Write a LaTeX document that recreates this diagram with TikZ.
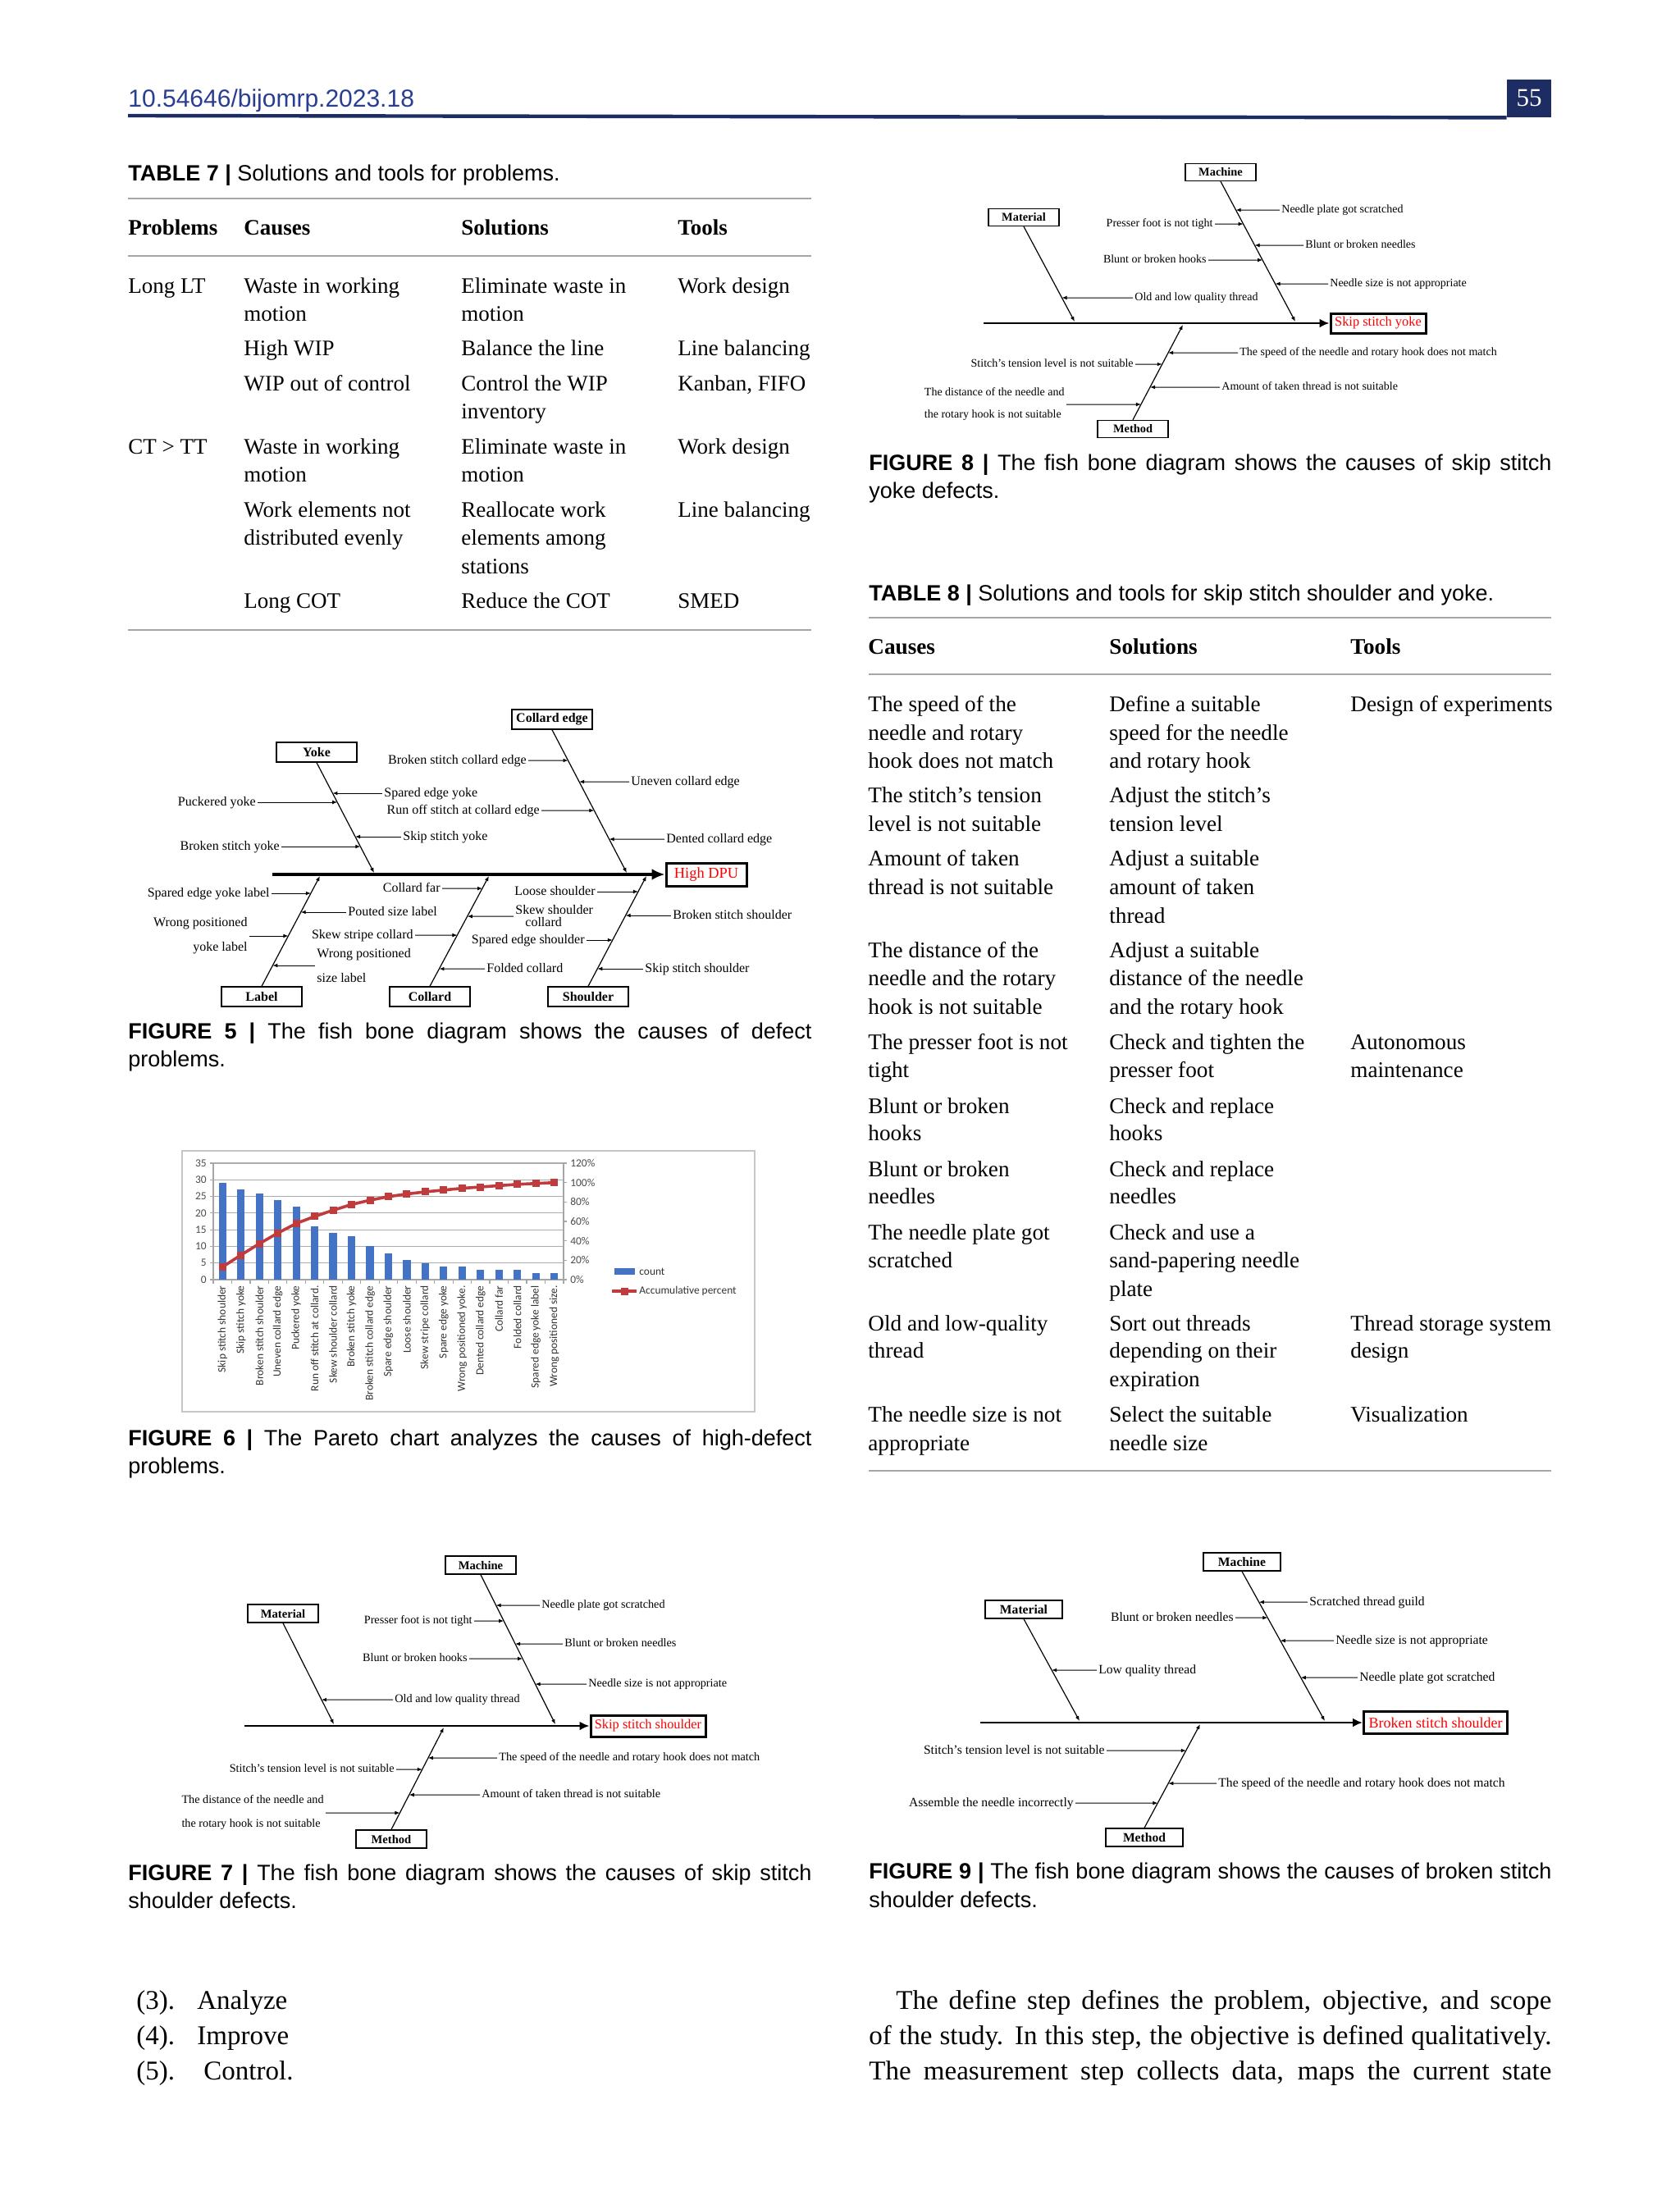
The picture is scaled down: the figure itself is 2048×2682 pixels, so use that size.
\documentclass[tikz,border=0pt]{standalone}
\usepackage{fontspec}
\setmainfont{Liberation Serif}
\newfontfamily\sansf{Liberation Sans}
\newfontfamily\calf{Carlito}
\usetikzlibrary{arrows.meta}
\definecolor{navy}{RGB}{30,44,100}
\definecolor{hdrblue}{RGB}{42,62,145}
\definecolor{rulegray}{RGB}{165,165,165}
\definecolor{barblue}{RGB}{68,114,196}
\definecolor{linered}{RGB}{192,60,60}
\newcommand\myfs[2]{\fontsize{#1}{#2}\selectfont}
% fishbone cause helpers: name, bone start, bone end, y, x, text
\newcommand\fbL[7][lbl]{%
  \coordinate (#2p) at (intersection cs: first line={(#3)--(#4)}, second line={(0,#5)--(2048,#5)});
  \node[#1,anchor=east] (#2) at (#6,#5) {#7};
  \draw[subarr] (#2.east) -- (#2p);}
\newcommand\fbR[7][lbl]{%
  \coordinate (#2p) at (intersection cs: first line={(#3)--(#4)}, second line={(0,#5)--(2048,#5)});
  \node[#1,anchor=west] (#2) at (#6,#5) {#7};
  \draw[subarr] (#2.west) -- (#2p);}
\tikzset{
  tx/.style={font=\myfs{13.5}{16}, inner sep=0, anchor=base west},
  txb/.style={font=\myfs{13.6}{16}, inner sep=0, anchor=base west},
  capt/.style={font=\sansf\myfs{13.5}{16}, inner sep=0, anchor=base west},
  bodytxt/.style={font=\myfs{16.5}{20}, inner sep=0, anchor=base west},
  trule/.style={draw=rulegray, line width=1pt},
  subarr/.style={line width=0.5pt, -{Latex[length=3pt,width=2.4pt]}},
  bone/.style={line width=0.6pt, -{Latex[length=3pt,width=2.4pt]}},
  spine/.style={line width=1.4pt, -{Latex[length=6pt,width=5.5pt]}},
  catbox/.style={draw, line width=0.7pt, inner sep=0},
  resbox/.style={draw, line width=1.5pt, text=red, inner sep=0},
}
\begin{document}
\begin{tikzpicture}[x=0.5pt,y=-0.5pt]
\fill[white] (0,0) rectangle (2048,2682);
\useasboundingbox (0,0) rectangle (2048,2682);

% ---------- header ----------
\node[anchor=base west, font=\sansf\myfs{15}{18}, text=hdrblue, inner sep=0] (doi) at (156,130) {10.54646/bijomrp.2023.18};
\node[fill=navy, text=white, minimum width=27pt, minimum height=23pt, inner sep=0, font=\myfs{15.5}{18}] (pg) at (1864,120) {55};
\draw[navy, line width=2.2pt] (156,141) -- (pg.south west);

% ---------- Table 7 ----------
\node[capt] (t7cap) at (156,220) {\textbf{TABLE 7 |} Solutions and tools for problems.};
\draw[trule] (156,242) -- (989,242);
\draw[trule] (156,312) -- (989,312);
\draw[trule] (156,768) -- (989,768);
\foreach \x/\y/\txt [count=\i] in {
 156/286/\textbf{Problems}, 297/286/\textbf{Causes}, 562/286/\textbf{Solutions}, 826/286/\textbf{Tools},
 156/357/Long LT, 297/357/Waste in working, 562/357/Eliminate waste in, 826/357/Work design,
 297/391/motion, 562/391/motion,
 297/433/High WIP, 562/433/Balance the line, 826/433/Line balancing,
 297/476/WIP out of control, 562/476/Control the WIP, 826/476/{Kanban, FIFO},
 562/510/inventory,
 156/553/CT > TT, 297/553/Waste in working, 562/553/Eliminate waste in, 826/553/Work design,
 297/587/motion, 562/587/motion,
 297/630/Work elements not, 562/630/Reallocate work, 826/630/Line balancing,
 297/664/distributed evenly, 562/664/elements among,
 562/699/stations,
 297/741/Long COT, 562/741/Reduce the COT, 826/741/SMED}
 {\node[tx] (tb7-\i) at (\x,\y) {\txt};}

% ---------- Table 8 ----------
\node[capt] (t8cap) at (1059,732) {\textbf{TABLE 8 |} Solutions and tools for skip stitch shoulder and yoke.};
\draw[trule] (1059,753) -- (1891,753);
\draw[trule] (1059,822) -- (1891,822);
\draw[trule] (1059,1793) -- (1891,1793);
\foreach \x/\y/\txt [count=\i] in {
 1058/797/\textbf{Causes}, 1352/797/\textbf{Solutions}, 1646/797/\textbf{Tools},
 1058/867/The speed of the, 1058/902/needle and rotary, 1058/936/hook does not match,
 1352/867/Define a suitable, 1352/902/speed for the needle, 1352/936/and rotary hook,
 1646/867/Design of experiments,
 1058/978/The stitch’s tension, 1058/1013/level is not suitable,
 1352/978/Adjust the stitch’s, 1352/1013/tension level,
 1058/1055/Amount of taken, 1058/1090/thread is not suitable,
 1352/1055/Adjust a suitable, 1352/1090/amount of taken, 1352/1125/thread,
 1058/1167/The distance of the, 1058/1201/needle and the rotary, 1058/1236/hook is not suitable,
 1352/1167/Adjust a suitable, 1352/1201/distance of the needle, 1352/1236/and the rotary hook,
 1058/1279/The presser foot is not, 1058/1313/tight,
 1352/1279/Check and tighten the, 1352/1313/presser foot,
 1646/1279/Autonomous, 1646/1313/maintenance,
 1058/1357/Blunt or broken, 1058/1390/hooks,
 1352/1357/Check and replace, 1352/1390/hooks,
 1058/1434/Blunt or broken, 1058/1467/needles,
 1352/1434/Check and replace, 1352/1467/needles,
 1058/1511/The needle plate got, 1058/1545/scratched,
 1352/1511/Check and use a, 1352/1545/sand-papering needle, 1352/1580/plate,
 1058/1622/Old and low-quality, 1058/1655/thread,
 1352/1622/Sort out threads, 1352/1655/depending on their, 1352/1690/expiration,
 1646/1622/Thread storage system, 1646/1655/design,
 1058/1733/The needle size is not, 1058/1768/appropriate,
 1352/1733/Select the suitable, 1352/1768/needle size,
 1646/1733/Visualization}
 {\node[txb] (tb8-\i) at (\x,\y) {\txt};}

% ---------- Figure 8 ----------
\begin{scope}[lbl/.style={font=\myfs{7}{8.4}, inner sep=1pt, text height=4.9pt, text depth=1.4pt},
  lblm/.style={font=\myfs{7}{13.5}, inner sep=1pt},
  catbox/.append style={font=\bfseries\myfs{7.2}{8.6}, minimum width=43pt, minimum height=10.5pt},
  resbox/.append style={font=\myfs{8.2}{9.8}, minimum width=58pt, minimum height=12pt}]
\node[catbox] (f8mach) at (1488,210) {Machine};
\node[catbox] (f8mat) at (1248,265) {Material};
\node[catbox] (f8meth) at (1381,523) {Method};
\node[resbox] (f8res) at (1680,394) {Skip stitch yoke};
\coordinate (f8s) at (1199,394);
\draw[spine] (f8s) -- (f8res.west);
\coordinate (f8mj) at (1579,392);
\coordinate (f8aj) at (1310,392);
\coordinate (f8tj) at (1442,396);
\draw[bone] (f8mach.south) -- (f8mj);
\draw[bone] (f8mat.south) -- (f8aj);
\draw[bone] (f8meth.north) -- (f8tj);
\fbR{f8a}{f8mach.south}{f8mj}{256}{1560}{Needle plate got scratched}
\fbL{f8b}{f8mach.south}{f8mj}{273}{1481}{Presser foot is not tight}
\fbR{f8c}{f8mach.south}{f8mj}{299}{1589}{Blunt or broken needles}
\fbL{f8d}{f8mach.south}{f8mj}{317}{1473}{Blunt or broken hooks}
\fbR{f8e}{f8mach.south}{f8mj}{346}{1619}{Needle size is not appropriate}
\fbR{f8f}{f8mat.south}{f8aj}{363}{1381}{Old and low quality thread}
\fbR{f8g}{f8meth.north}{f8tj}{430}{1509}{The speed of the needle and rotary hook does not match}
\fbL{f8h}{f8meth.north}{f8tj}{444}{1384}{Stitch’s tension level is not suitable}
\fbR{f8i}{f8meth.north}{f8tj}{472}{1487}{Amount of taken thread is not suitable}
\fbL[lblm,align=left]{f8j}{f8meth.north}{f8tj}{493}{1300}{The distance of the needle and\\the rotary hook is not suitable}
\end{scope}
\node[capt] (cap8a) at (1059,573) {\makebox[416pt][s]{\textbf{FIGURE 8 |} The fish bone diagram shows the causes of skip stitch}};
\node[capt] (cap8b) at (1059,607) {yoke defects.};

% ---------- Figure 5 ----------
\begin{scope}[lbl/.style={font=\myfs{8}{9.6}, inner sep=1pt, text height=5.6pt, text depth=1.6pt},
  lblm/.style={font=\myfs{8}{15}, inner sep=1pt},
  catbox/.append style={font=\bfseries\myfs{8}{9.6}, minimum width=49pt, minimum height=12pt},
  resbox/.append style={font=\myfs{9.2}{11}, minimum width=49pt, minimum height=14pt},
  spine/.append style={line width=1.6pt, -{Latex[length=8pt,width=7pt]}}]
\node[catbox] (f5yoke) at (386,917) {Yoke};
\node[catbox] (f5ce) at (673,877) {Collard edge};
\node[catbox] (f5label) at (319,1215) {Label};
\node[catbox] (f5collard) at (524,1215) {Collard};
\node[catbox] (f5shoulder) at (717,1215) {Shoulder};
\node[resbox] (f5res) at (861,1066) {High DPU};
\coordinate (f5s) at (332,1066);
\draw[spine] (f5s) -- (f5res.west);
\coordinate (f5yj) at (456,1064);
\coordinate (f5cej) at (764,1064);
\coordinate (f5lj) at (390,1068);
\coordinate (f5cj) at (596,1068);
\coordinate (f5sj) at (788,1068);
\draw[bone] (f5yoke.south) -- (f5yj);
\draw[bone] (f5ce.south) -- (f5cej);
\draw[bone] (f5label.north) -- (f5lj);
\draw[bone] (f5collard.north) -- (f5cj);
\draw[bone] (f5shoulder.north) -- (f5sj);
\fbR{f5a}{f5yoke.south}{f5yj}{967}{466}{Spared edge yoke}
\fbL{f5b}{f5yoke.south}{f5yj}{978}{314}{Puckered yoke}
\fbR{f5c}{f5yoke.south}{f5yj}{1020}{489}{Skip stitch yoke}
\fbL{f5d}{f5yoke.south}{f5yj}{1032}{343}{Broken stitch yoke}
\fbL{f5e}{f5ce.south}{f5cej}{927}{644}{Broken stitch collard edge}
\fbR{f5f}{f5ce.south}{f5cej}{953}{767}{Uneven collard edge}
\fbL{f5g}{f5ce.south}{f5cej}{988}{660}{Run off stitch at collard edge}
\fbR{f5h}{f5ce.south}{f5cej}{1023}{810}{Dented collard edge}
\fbL{f5i}{f5label.north}{f5lj}{1089}{331}{Spared edge yoke label}
\fbR{f5j}{f5label.north}{f5lj}{1112}{422}{Pouted size label}
\fbL[lblm,align=right]{f5k}{f5label.north}{f5lj}{1141}{304}{Wrong positioned\\yoke label}
\fbR[lblm,align=left]{f5l}{f5label.north}{f5lj}{1177}{384}{Wrong positioned\\size label}
\fbL{f5m}{f5collard.north}{f5cj}{1083}{539}{Collard far}
\fbR[lblm,align=left,font=\myfs{8}{7.5}]{f5n}{f5collard.north}{f5cj}{1117}{626}{Skew shoulder\\\hspace*{6pt}collard}
\fbL{f5o}{f5collard.north}{f5cj}{1140}{506}{Skew stripe collard}
\fbR{f5p}{f5collard.north}{f5cj}{1181}{591}{Folded collard}
\fbL{f5q}{f5shoulder.north}{f5sj}{1087}{728}{Loose shoulder}
\fbR{f5r}{f5shoulder.north}{f5sj}{1116}{818}{Broken stitch shoulder}
\fbL{f5t}{f5shoulder.north}{f5sj}{1146}{715}{Spared edge shoulder}
\fbR{f5u}{f5shoulder.north}{f5sj}{1181}{784}{Skip stitch shoulder}
\end{scope}
\node[capt] (cap5a) at (156,1266) {\makebox[416.5pt][s]{\textbf{FIGURE 5 |} The fish bone diagram shows the causes of defect}};
\node[capt] (cap5b) at (156,1300) {problems.};

% ---------- Figure 6 (Pareto) ----------
\begin{scope}[font=\calf\myfs{6.7}{8}]
\draw[gray!45, line width=0.7pt] (222,1403) rectangle (920,1721);
\foreach \k in {1,...,7} {\draw[gray!65, line width=0.6pt] (260,{1560-\k*20.286}) -- (687,{1560-\k*20.286});}
\draw[gray!70, line width=0.6pt] (260,1418) -- (260,1560) -- (687,1560) -- (687,1418);
\foreach \k [evaluate=\k as \v using int(5*\k)] in {0,...,7} {
  \draw[gray!70, line width=0.6pt] (256,{1560-\k*20.286}) -- (260,{1560-\k*20.286});
  \node[anchor=east, inner sep=1pt, text=black!70] (yl\k) at (254,{1560-\k*20.286}) {\v};}
\foreach \k [evaluate=\k as \v using int(20*\k)] in {0,...,6} {
  \draw[gray!70, line width=0.6pt] (687,{1560-\k*23.667}) -- (691,{1560-\k*23.667});
  \node[anchor=west, inner sep=1pt, text=black!70] (yr\k) at (693,{1560-\k*23.667}) {\v\%};}
\foreach \j in {0,...,19} {\draw[gray!70, line width=0.6pt] ({260+\j*22.47},1560) -- ({260+\j*22.47},1565);}
\foreach \v [count=\i] in {29,27,26,24,22,16,14,13,10,8,6,5,4,4,3,3,3,2,2}
  {\fill[barblue] ({260+(\i-0.5)*22.47-4.6},1560) rectangle ({260+(\i-0.5)*22.47+4.6},{1560-\v*4.0571});}
\draw[linered, line width=1.8pt, line join=round]
  (271.2,1544.5) -- (293.7,1530.0) -- (316.2,1516.1) -- (338.6,1503.2) -- (361.1,1491.5)
  -- (383.6,1482.9) -- (406.0,1475.4) -- (428.5,1468.4) -- (451.0,1463.1) -- (473.4,1458.8) -- (495.9,1455.6)
  -- (518.4,1452.9) -- (540.8,1450.8) -- (563.3,1448.6) -- (585.8,1447.0) -- (608.2,1445.4) -- (630.7,1443.8)
  -- (653.2,1442.7) -- (675.6,1441.7);
\foreach \px/\py in {271.2/1544.5, 293.7/1530.0, 316.2/1516.1, 338.6/1503.2, 361.1/1491.5,
  383.6/1482.9, 406.0/1475.4, 428.5/1468.4, 451.0/1463.1, 473.4/1458.8, 495.9/1455.6,
  518.4/1452.9, 540.8/1450.8, 563.3/1448.6, 585.8/1447.0, 608.2/1445.4, 630.7/1443.8,
  653.2/1442.7, 675.6/1441.7}
  {\fill[linered] ({\px-4.5},{\py-4.5}) rectangle ({\px+4.5},{\py+4.5});}
\foreach \txt [count=\i] in {Skip stitch shoulder, Skip stitch yoke, Broken stitch shoulder,
  Uneven collard edge, Puckered yoke, Run off stitch at collard., Skew shoulder collard,
  Broken stitch yoke, Broken stitch collard edge, Spare edge shoulder, Loose shoulder,
  Skew stripe collard, Spare edge yoke, Wrong positioned yoke., Dented collard edge,
  Collard far, Folded collard, Spared edge yoke label, Wrong positioned size.}
  {\node[rotate=90, anchor=east, inner sep=0, text=black!80] (cl\i) at ({260+(\i-0.5)*22.47},1567) {\txt};}
\fill[barblue] (749,1546) rectangle (774,1554);
\node[anchor=west, inner sep=1pt, text=black!80] (lg1) at (777,1550) {count};
\draw[linered, line width=1.8pt] (746,1574) -- (776,1574);
\fill[linered] (756.5,1569.5) rectangle (765.5,1578.5);
\node[anchor=west, inner sep=1pt, text=black!80] (lg2) at (777,1574) {Accumulative percent};
\end{scope}
\node[capt] (cap6a) at (156,1762) {\makebox[416.5pt][s]{\textbf{FIGURE 6 |} The Pareto chart analyzes the causes of high-defect}};
\node[capt] (cap6b) at (156,1796) {problems.};

% ---------- Figure 7 ----------
\begin{scope}[lbl/.style={font=\myfs{7.1}{8.5}, inner sep=1pt, text height=5pt, text depth=1.4pt},
  lblm/.style={font=\myfs{7.1}{14.5}, inner sep=1pt},
  catbox/.append style={font=\bfseries\myfs{7.3}{8.8}, minimum width=43pt, minimum height=11pt},
  resbox/.append style={font=\myfs{8.2}{9.8}, minimum width=70pt, minimum height=13pt}]
\node[catbox] (f7mach) at (586,1908) {Machine};
\node[catbox] (f7mat) at (345,1967) {Material};
\node[catbox] (f7meth) at (477,2242) {Method};
\node[resbox] (f7res) at (790,2104) {Skip stitch shoulder};
\coordinate (f7s) at (298,2104);
\draw[spine] (f7s) -- (f7res.west);
\coordinate (f7mj) at (677,2102);
\coordinate (f7aj) at (407,2102);
\coordinate (f7tj) at (541,2106);
\draw[bone] (f7mach.south) -- (f7mj);
\draw[bone] (f7mat.south) -- (f7aj);
\draw[bone] (f7meth.north) -- (f7tj);
\fbR{f7a}{f7mach.south}{f7mj}{1957}{658}{Needle plate got scratched}
\fbL{f7b}{f7mach.south}{f7mj}{1976}{578}{Presser foot is not tight}
\fbR{f7c}{f7mach.south}{f7mj}{2004}{686}{Blunt or broken needles}
\fbL{f7d}{f7mach.south}{f7mj}{2022}{572}{Blunt or broken hooks}
\fbR{f7e}{f7mach.south}{f7mj}{2053}{715}{Needle size is not appropriate}
\fbR{f7f}{f7mat.south}{f7aj}{2072}{479}{Old and low quality thread}
\fbR{f7g}{f7meth.north}{f7tj}{2143}{606}{The speed of the needle and rotary hook does not match}
\fbL{f7h}{f7meth.north}{f7tj}{2157}{483}{Stitch’s tension level is not suitable}
\fbR{f7i}{f7meth.north}{f7tj}{2188}{585}{Amount of taken thread is not suitable}
\fbL[lblm,align=left]{f7j}{f7meth.north}{f7tj}{2210}{397}{The distance of the needle and\\the rotary hook is not suitable}
\end{scope}
\node[capt] (cap7a) at (156,2292) {\makebox[416.5pt][s]{\textbf{FIGURE 7 |} The fish bone diagram shows the causes of skip stitch}};
\node[capt] (cap7b) at (156,2326) {shoulder defects.};

% ---------- Figure 9 ----------
\begin{scope}[lbl/.style={font=\myfs{7.8}{9.3}, inner sep=1pt, text height=5.5pt, text depth=1.5pt},
  catbox/.append style={font=\bfseries\myfs{7.8}{9.3}, minimum width=47pt, minimum height=11pt},
  resbox/.append style={font=\myfs{9}{10.8}, minimum width=87.5pt, minimum height=13.5pt}]
\node[catbox] (f9mach) at (1514,1904) {Machine};
\node[catbox] (f9mat) at (1248,1962) {Material};
\node[catbox] (f9meth) at (1395,2240) {Method};
\node[resbox] (f9res) at (1750,2100) {Broken stitch shoulder};
\coordinate (f9s) at (1195,2100);
\draw[spine] (f9s) -- (f9res.west);
\coordinate (f9mj) at (1615,2098);
\coordinate (f9aj) at (1316,2098);
\coordinate (f9tj) at (1463,2102);
\draw[bone] (f9mach.south) -- (f9mj);
\draw[bone] (f9mat.south) -- (f9aj);
\draw[bone] (f9meth.north) -- (f9tj);
\fbR{f9a}{f9mach.south}{f9mj}{1953}{1594}{Scratched thread guild}
\fbL{f9b}{f9mach.south}{f9mj}{1972}{1506}{Blunt or broken needles}
\fbR{f9c}{f9mach.south}{f9mj}{2000}{1626}{Needle size is not appropriate}
\fbR{f9d}{f9mach.south}{f9mj}{2045}{1655}{Needle plate got scratched}
\fbR{f9e}{f9mat.south}{f9aj}{2036}{1337}{Low quality thread}
\fbL{f9f}{f9meth.north}{f9tj}{2134}{1349}{Stitch’s tension level is not suitable}
\fbR{f9g}{f9meth.north}{f9tj}{2174}{1483}{The speed of the needle and rotary hook does not match}
\fbL{f9h}{f9meth.north}{f9tj}{2198}{1311}{Assemble the needle incorrectly}
\end{scope}
\node[capt] (cap9a) at (1059,2290) {\makebox[416pt][s]{\textbf{FIGURE 9 |} The fish bone diagram shows the causes of broken stitch}};
\node[capt] (cap9b) at (1059,2325) {shoulder defects.};

% ---------- body text ----------
\node[bodytxt] (l3a) at (166,2449) {(3).};
\node[bodytxt] (l3b) at (240,2449) {Analyze};
\node[bodytxt] (l4a) at (166,2492) {(4).};
\node[bodytxt] (l4b) at (240,2492) {Improve};
\node[bodytxt] (l5a) at (166,2535) {(5).};
\node[bodytxt] (l5b) at (248,2535) {Control.};
\node[bodytxt] (p1) at (1092,2449) {\makebox[399.5pt][s]{The define step defines the problem, objective, and scope}};
\node[bodytxt] (p2) at (1059,2492) {\makebox[416pt][s]{of the study. In this step, the objective is defined qualitatively.}};
\node[bodytxt] (p3) at (1059,2535) {\makebox[416pt][s]{The measurement step collects data, maps the current state}};
\end{tikzpicture}
\end{document}
